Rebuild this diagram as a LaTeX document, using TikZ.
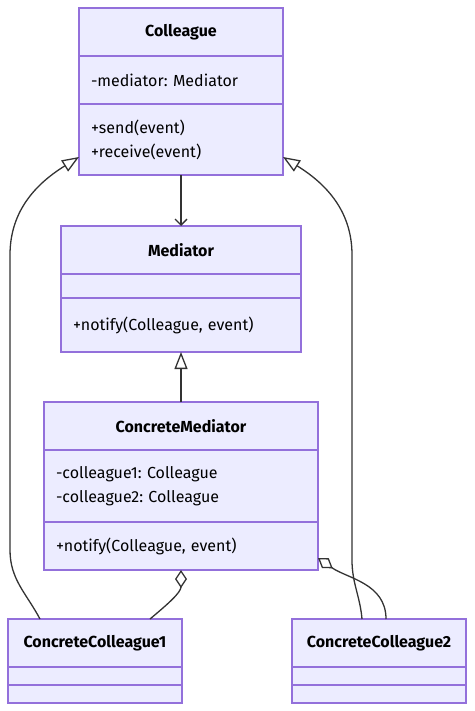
\documentclass[tikz,border=0pt]{standalone}
\usepackage{fontspec}
\setmainfont{Fira Sans}
\frenchspacing
\usetikzlibrary{positioning}
\usetikzlibrary{arrows.meta}
\definecolor{classfill}{HTML}{ECECFF}
\definecolor{classborder}{HTML}{9370DB}
\definecolor{linkgray}{HTML}{333333}
\tikzset{
  class name/.style={rectangle, draw=classborder, fill=classfill, line width=1.2pt, outer sep=0pt,
    font=\fontsize{16}{24}\selectfont\bfseries, minimum height=48pt, inner sep=0pt},
  class part/.style={rectangle, draw=classborder, fill=classfill, line width=1.2pt, outer sep=0pt,
    font=\fontsize{16}{24}\selectfont, align=left, inner xsep=12pt, inner ysep=0pt},
  link/.style={draw=linkgray, line width=1.3pt},
  inherit/.style={link, -{Triangle[open, length=17pt, width=13pt, fill=white]}},
  aggregate/.style={link, -{Diamond[open, length=18pt, width=12pt, fill=white]}},
}
\begin{document}
\begin{tikzpicture}[x=1pt, y=1pt]
        \useasboundingbox (0,0) rectangle (474,-711);
        % Colleague
        \node (colleague) [class name, minimum width=204pt] at (181,-32) {Colleague};
        \node (colleague attr) [class part, text width=180pt, minimum height=48pt, below=0pt of colleague] {-mediator: Mediator};
        \node (colleague ops) [class part, text width=180pt, minimum height=71pt, below=0pt of colleague attr] {+send(event)\\+receive(event)};
        % Mediator
        \node (mediator) [class name, minimum width=240pt, below=51pt of colleague ops] {Mediator};
        \node (mediator attr) [class part, text width=216pt, minimum height=24pt, below=0pt of mediator] {};
        \node (mediator ops) [class part, text width=216pt, minimum height=54pt, below=0pt of mediator attr] {+notify(Colleague, event)};
        % ConcreteMediator
        \node (concrete mediator) [class name, minimum width=274pt, below=50pt of mediator ops] {ConcreteMediator};
        \node (concrete mediator attr) [class part, text width=250pt, minimum height=72pt, below=0pt of concrete mediator] {-colleague1: Colleague\\-colleague2: Colleague};
        \node (concrete mediator ops) [class part, text width=250pt, minimum height=48pt, below=0pt of concrete mediator attr] {+notify(Colleague, event)};
        % ConcreteColleague1 and ConcreteColleague2
        \node (concrete colleague1) [class name, minimum width=174pt] at (95,-643) {ConcreteColleague1};
        \node (concrete colleague1 attr) [class part, text width=150pt, minimum height=18pt, below=0pt of concrete colleague1] {};
        \node (concrete colleague1 ops) [class part, text width=150pt, minimum height=18pt, below=0pt of concrete colleague1 attr] {};
        \node (concrete colleague2) [class name, minimum width=174pt] at (379,-643) {ConcreteColleague2};
        \node (concrete colleague2 attr) [class part, text width=150pt, minimum height=18pt, below=0pt of concrete colleague2] {};
        \node (concrete colleague2 ops) [class part, text width=150pt, minimum height=18pt, below=0pt of concrete colleague2 attr] {};
        % links
        \draw [link, -{Straight Barb[length=6pt, width=12pt]}] (colleague ops) -- (mediator);
        \draw [inherit] (concrete mediator) -- (mediator ops);
        \draw [inherit] ([xshift=-55pt]concrete colleague1.north) to[out=118, in=-90] (10,-550) -- (10,-255)
            to[out=90, in=212] ([yshift=18pt]colleague ops.south west);
        \draw [inherit] ([xshift=-17pt]concrete colleague2.north) to[out=95, in=-90] (352,-560) -- (352,-255)
            to[out=90, in=-32] ([yshift=18pt]colleague ops.south east);
        \draw [aggregate] ([xshift=55pt]concrete colleague1.north) to[out=40, in=-90] (concrete mediator ops.south);
        \draw [aggregate] ([xshift=7pt]concrete colleague2.north) to[out=90, in=-35] ([yshift=12pt]concrete mediator ops.south east);
    \end{tikzpicture}
\end{document}
